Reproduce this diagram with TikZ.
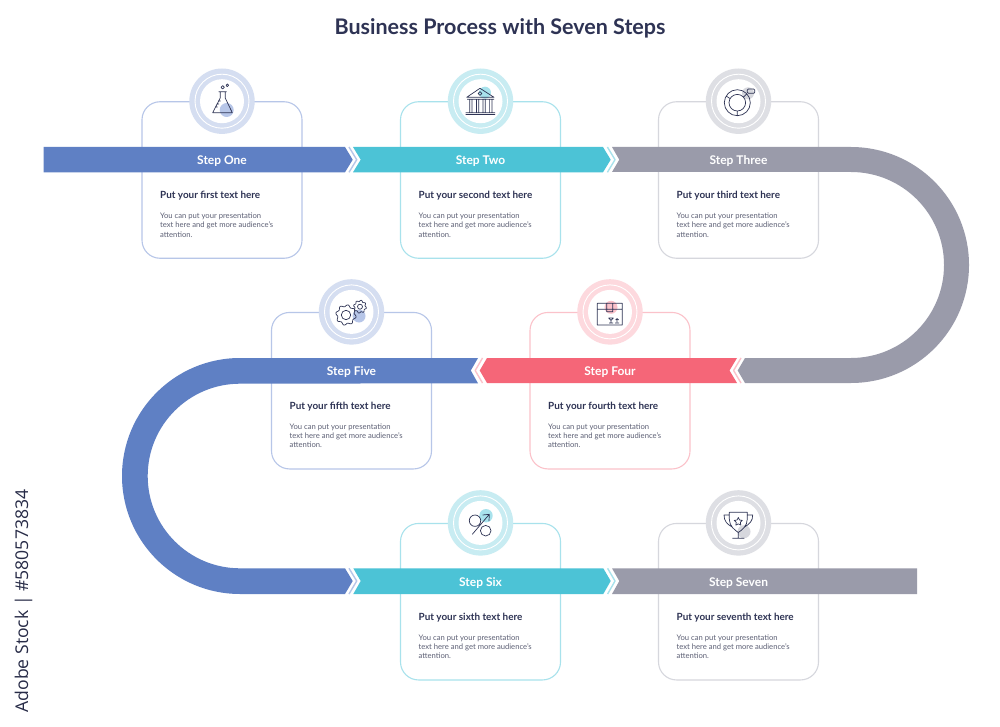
\documentclass[tikz,border=0pt]{standalone}
\usepackage{fontspec}
\setmainfont{Lato}
\newfontfamily\stampfont{Open Sans}
\usetikzlibrary{positioning,shapes.geometric}

\definecolor{blueband}{HTML}{5F80C4}
\definecolor{tealband}{HTML}{4CC3D6}
\definecolor{grayband}{HTML}{9A9BAA}
\definecolor{pinkband}{HTML}{F56678}
\definecolor{blueedge}{HTML}{B7C6E8}
\definecolor{tealedge}{HTML}{A8E2EC}
\definecolor{grayedge}{HTML}{D6D7DD}
\definecolor{pinkedge}{HTML}{FBC2CA}
\definecolor{bluering}{HTML}{D5DEF1}
\definecolor{tealring}{HTML}{C8ECF2}
\definecolor{grayring}{HTML}{DEDFE4}
\definecolor{pinkring}{HTML}{FDD9DE}
\definecolor{inkdark}{HTML}{2E3354}
\definecolor{inkbody}{HTML}{5D6075}

\begin{document}
\begin{tikzpicture}[x=1pt,y=-1pt,line join=round]
  \tikzstyle{card}=[rectangle,rounded corners=18pt,fill=white,line width=1.1pt,minimum width=160pt,minimum height=156.5pt,inner sep=0pt]
  \tikzstyle{badge}=[circle,minimum size=65.4pt,inner sep=0pt]
  \tikzstyle{steplabel}=[text=white,font=\fontsize{12}{14}\bfseries\selectfont,inner sep=0pt,text height=9pt,text depth=3pt]
  \tikzstyle{headtext}=[text=inkdark,font=\fontsize{9.9}{11}\bfseries\selectfont,inner sep=0pt,text height=8pt,text depth=2pt]
  \tikzstyle{bodytext}=[text=inkbody,font=\fontsize{7.65}{9.4}\selectfont,inner sep=0pt,align=left]
  \tikzstyle{iconline}=[draw=inkdark,line width=.7pt]
  \tikzstyle{stripe}=[line width=1.4pt]

  \useasboundingbox (0,0) rectangle (1000,727);
  \fill[white] (0,0) rectangle (1000,727);

  \node (title) at (500,28) [text=inkdark,font=\fontsize{21.5}{24}\bfseries\selectfont] {Business Process with Seven Steps};
  \node (stamp) at (23.5,601) [rotate=90,text=inkdark!85!black,font=\stampfont\fontsize{17.6}{20}\selectfont,inner sep=0pt] {Adobe Stock | \#580573834};

  % cards
  \node[card,draw=blueedge] (cardA) at (222,180)     {};
  \node[card,draw=tealedge] (cardB) at (480.5,180)   {};
  \node[card,draw=grayedge] (cardC) at (738.5,180)   {};
  \node[card,draw=pinkedge] (cardD) at (610,390.7)   {};
  \node[card,draw=blueedge] (cardE) at (351.5,390.7) {};
  \node[card,draw=tealedge] (cardF) at (480.5,601.7) {};
  \node[card,draw=grayedge] (cardG) at (738.5,601.7) {};

  % badges
  \node[badge,fill=bluering] (badgeA) at (cardA.north) {};
  \node[badge,fill=tealring] (badgeB) at (cardB.north) {};
  \node[badge,fill=grayring] (badgeC) at (cardC.north) {};
  \node[badge,fill=pinkring] (badgeD) at (cardD.north) {};
  \node[badge,fill=bluering] (badgeE) at (cardE.north) {};
  \node[badge,fill=tealring] (badgeF) at (cardF.north) {};
  \node[badge,fill=grayring] (badgeG) at (cardG.north) {};
  \foreach \b in {badgeA,badgeB,badgeC,badgeD,badgeE,badgeF,badgeG}{
    \draw[white,line width=.9pt] (\b) circle[radius=27pt];
    \fill[white] (\b) circle[radius=22pt];
  }

  % ribbons
  \fill[blueband] (43.5,147) -- (345,147) -- (352.7,159.7) -- (345,172.3) -- (43.5,172.3) -- cycle;
  \fill[tealband] (353,147) -- (603,147) -- (610.7,159.7) -- (603,172.3) -- (353,172.3) -- (360.7,159.7) -- cycle;
  \fill[grayband] (612,147) -- (851,147) arc (90:-90:118pt) -- (745,383) -- (737.7,370.5) -- (745,358)
                  -- (851,358) arc (-90:90:93pt) -- (612,172) -- (619.3,159.7) -- cycle;
  \fill[pinkband] (737,358) -- (487,358) -- (479.7,370.5) -- (487,383) -- (737,383) -- (729.5,370.5) -- cycle;
  \fill[blueband] (478,358) -- (240,358) arc (90:270:118pt) -- (345,594) -- (352.7,581) -- (345,568.3)
                  -- (240,568.3) arc (270:90:92.3pt) -- (478,383.3) -- (470.8,370.5) -- cycle;
  \fill[tealband] (353.3,568.3) -- (603.3,568.3) -- (610.7,581) -- (603.3,594) -- (353.3,594) -- (360.7,581) -- cycle;
  \fill[grayband] (612,568.3) -- (917,568.3) -- (917,594) -- (612,594) -- (619.3,581) -- cycle;

  % stripes between ribbons
  \draw[stripe,blueedge] (349,147) -- (356.7,159.7) -- (349,172.3);
  \draw[stripe,tealedge] (607.4,147) -- (615,159.7) -- (607.4,172.3);
  \draw[stripe,pinkedge] (741,358) -- (733.6,370.5) -- (741,383);
  \draw[stripe,pinkedge] (482.5,358) -- (475.2,370.5) -- (482.5,383);
  \draw[stripe,blueedge] (349,568.3) -- (356.7,581) -- (349,594);
  \draw[stripe,tealedge] (607.6,568.3) -- (615,581) -- (607.6,594);

  % step labels
  \node[steplabel,below=54pt of cardA.north] (labelA) {Step One};
  \node[steplabel,below=54pt of cardB.north] (labelB) {Step Two};
  \node[steplabel,below=54pt of cardC.north] (labelC) {Step Three};
  \node[steplabel,below=54pt of cardD.north] (labelD) {Step Four};
  \node[steplabel,below=54pt of cardE.north] (labelE) {Step Five};
  \node[steplabel,below=54pt of cardF.north] (labelF) {Step Six};
  \node[steplabel,below=54pt of cardG.north] (labelG) {Step Seven};

  % texts
  \node[headtext,below right=89.5pt and 18.5pt of cardA.north west] (headA) {Put your first text here};
  \node[headtext,below right=89.5pt and 18.5pt of cardB.north west] (headB) {Put your second text here};
  \node[headtext,below right=89.5pt and 18.5pt of cardC.north west] (headC) {Put your third text here};
  \node[headtext,below right=89.5pt and 18.5pt of cardD.north west] (headD) {Put your fourth text here};
  \node[headtext,below right=89.5pt and 18.5pt of cardE.north west] (headE) {Put your fifth text here};
  \node[headtext,below right=89.5pt and 18.5pt of cardF.north west] (headF) {Put your sixth text here};
  \node[headtext,below right=89.5pt and 18.5pt of cardG.north west] (headG) {Put your seventh text here};

  \node[bodytext,below right=11.5pt and 0pt of headA.south west] (bodyA) {You can put your presentation\\text here and get more audience's\\attention.};
  \node[bodytext,below right=11.5pt and 0pt of headB.south west] (bodyB) {You can put your presentation\\text here and get more audience's\\attention.};
  \node[bodytext,below right=11.5pt and 0pt of headC.south west] (bodyC) {You can put your presentation\\text here and get more audience's\\attention.};
  \node[bodytext,below right=11.5pt and 0pt of headD.south west] (bodyD) {You can put your presentation\\text here and get more audience's\\attention.};
  \node[bodytext,below right=11.5pt and 0pt of headE.south west] (bodyE) {You can put your presentation\\text here and get more audience's\\attention.};
  \node[bodytext,below right=11.5pt and 0pt of headF.south west] (bodyF) {You can put your presentation\\text here and get more audience's\\attention.};
  \node[bodytext,below right=11.5pt and 0pt of headG.south west] (bodyG) {You can put your presentation\\text here and get more audience's\\attention.};

  % flask
  \fill[blueedge] (226.7,110) circle[radius=7pt];
  \draw[iconline] (218.7,91.7) -- (226.7,91.7) (220.2,91.7) -- (220.2,98) -- (212.7,112.7) -- (232.3,112.7) -- (225.2,98) -- (225.2,91.7)
                  (218,101) -- (220.5,101) (216.5,104) -- (219,104) (215,107) -- (217.5,107);
  \draw[iconline] (222.7,87.3) circle[radius=1.7pt] (227.3,85.3) circle[radius=1.3pt];
  % bank
  \fill[tealedge] (485,92.7) circle[radius=6pt];
  \draw[iconline] (466.7,97.3) -- (480,88.3) -- (494,97.3) -- cycle (480,93.5) circle[radius=1.8pt]
                  (467,99.3) -- (494,99.3) (465.7,112.7) -- (495,112.7) (465.7,114.6) -- (495,114.6)
                  (469.7,99.3) -- (469.7,112.7) (472,99.3) -- (472,112.7)
                  (476.5,99.3) -- (476.5,112.7) (478.8,99.3) -- (478.8,112.7)
                  (483,99.3) -- (483,112.7) (485.3,99.3) -- (485.3,112.7)
                  (489.6,99.3) -- (489.6,112.7) (491.9,99.3) -- (491.9,112.7);
  % donut with flag
  \fill[grayedge] (748,93.3) circle[radius=6pt];
  \draw[iconline] (737.3,102.7) circle[radius=13pt] (737.3,102.7) circle[radius=8.3pt]
                  (737.3,111) -- (737.3,115.7) (730,98.5) -- (726,96) (743,97.5) -- (746.5,94);
  \draw[iconline,rounded corners=1pt] (747.3,89) rectangle (754.7,93.3);
  % gears
  \fill[blueedge] (359,316) circle[radius=6.5pt];
  \draw[iconline,shift={(346,315)}] plot[domain=0:360,samples=97,smooth cycle] (\x:{9.3+1*sin(8*\x)}) (0,0) circle[radius=4.7pt];
  \draw[iconline,shift={(360,306.7)}] plot[domain=0:360,samples=73,smooth cycle] (\x:{5.8+.7*sin(8*\x)}) (0,0) circle[radius=2.5pt];
  % box
  \fill[pinkedge] (611,307.3) circle[radius=6.5pt];
  \draw[iconline] (597.3,303.3) rectangle (622.3,325) (597.3,309.3) -- (622.3,309.3) (606.7,303.3) rectangle (612.7,311.7)
                  (608.7,318) -- (613.3,318) -- (611,320.5) -- cycle (611,320.5) -- (611,323) (609,323) -- (613,323)
                  (617,322) -- (617,318.5) (615.5,320) -- (617,318.5) -- (618.5,320) (615,323) -- (619,323);
  % percent
  \fill[tealedge] (486,515.7) circle[radius=6.7pt];
  \draw[iconline] (475,520.7) circle[radius=5.7pt] (485.7,530.7) circle[radius=5.3pt]
                  (472.3,534.3) -- (489.3,514.3) (482.7,515) -- (489.3,514.3) -- (489,521);
  % trophy
  \fill[grayedge] (744,531.7) circle[radius=6.5pt];
  \draw[iconline] (729.3,512.3) -- (747.3,512.3) -- (747.3,519) .. controls (747.3,526) and (742,530) .. (738.3,532.5)
                  .. controls (734.6,530) and (729.3,526) .. (729.3,519) -- cycle
                  (729.3,515) -- (724,515) .. controls (724,521) and (727,524) .. (732,527)
                  (747.3,515) -- (752.7,515) .. controls (752.7,521) and (749.6,524) .. (744.6,527)
                  (738.3,532.5) -- (738.3,538.3) (732.3,538.3) -- (744.3,538.3);
  \node[star,star points=5,star point ratio=2,draw=inkdark,line width=.7pt,minimum size=8.5pt,inner sep=0pt] (trophystar) at (738.3,521.7) {};
\end{tikzpicture}
\end{document}
